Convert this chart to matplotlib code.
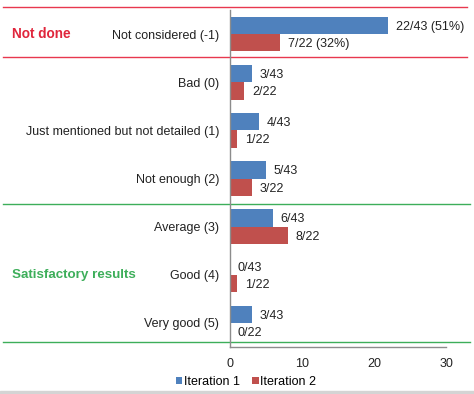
import matplotlib
matplotlib.use("Agg")
import matplotlib.pyplot as plt
import matplotlib.transforms as mtransforms
from matplotlib.patches import Rectangle
import numpy as np

plt.rcParams["font.family"] = ["Liberation Sans", "DejaVu Sans"]

# data
categories = [
    "Not considered (-1)",
    "Bad (0)",
    "Just mentioned but not detailed (1)",
    "Not enough (2)",
    "Average (3)",
    "Good (4)",
    "Very good (5)",
]
iteration1 = [22, 3, 4, 5, 6, 0, 3]
iteration2 = [7, 2, 1, 3, 8, 1, 0]
total1 = 43
total2 = 22
series_names = ["Iteration 1", "Iteration 2"]
xticks = [0, 10, 20, 30]

BLUE = "#4F81BD"
RED = "#C0504D"
LINE_RED = "#E8384F"
LINE_GREEN = "#3DAE5A"

W, H = 474, 394
fig = plt.figure(figsize=(W / 100, H / 100), dpi=100)
ax = fig.add_axes([230 / W, 1 - 347 / H, (446 - 230) / W, (347 - 10) / H])

y = np.arange(len(categories))
h = 0.36
b1 = ax.barh(y - h / 2, iteration1, height=h, color=BLUE)
b2 = ax.barh(y + h / 2, iteration2, height=h, color=RED)

# value labels next to each bar
for i, (v1, v2) in enumerate(zip(iteration1, iteration2)):
    lab1 = f"{v1}/{total1}"
    lab2 = f"{v2}/{total2}"
    if i == 0:
        lab1 += f" ({round(100 * v1 / total1)}%)"
        lab2 += f" ({round(100 * v2 / total2)}%)"
    ax.annotate(lab1, (v1, i - h / 2), xytext=(5.5, -1), textcoords="offset points",
                va="center", ha="left", fontsize=9, color="#222222")
    ax.annotate(lab2, (v2, i + h / 2), xytext=(5.5, -1), textcoords="offset points",
                va="center", ha="left", fontsize=9, color="#222222")

ax.set_xlim(0, 30)
ax.set_ylim(len(categories) - 0.5, -0.5)
ax.set_xticks(xticks)
ax.set_yticks(y)
ax.set_yticklabels(categories)
ax.tick_params(axis="both", length=0, labelsize=9, colors="#222222")
ax.tick_params(axis="x", pad=8)
ax.tick_params(axis="y", pad=8)
for s in ["top", "right"]:
    ax.spines[s].set_visible(False)
for s in ["left", "bottom"]:
    ax.spines[s].set_color("#8C8C8C")
    ax.spines[s].set_linewidth(1)

# group separators spanning the whole figure width
trans = mtransforms.blended_transform_factory(fig.transFigure, ax.transData)
ax.plot([3 / W, 467 / W], [-0.56, -0.56], color=LINE_RED, lw=1, transform=trans, clip_on=False)
ax.plot([3 / W, 467 / W], [0.48, 0.48], color=LINE_RED, lw=1, transform=trans, clip_on=False)
ax.plot([3 / W, 470 / W], [3.54, 3.54], color=LINE_GREEN, lw=1, transform=trans, clip_on=False)
ax.plot([3 / W, 470 / W], [6.40, 6.40], color=LINE_GREEN, lw=1, transform=trans, clip_on=False)

ax.text(12 / W, 0, "Not done", transform=trans, fontsize=9.8, fontweight="bold",
        color="#E0263C", va="center", ha="left")
ax.text(12 / W, 5, "Satisfactory results", transform=trans, fontsize=9.6,
        fontweight="bold", color="#3DAE5A", va="center", ha="left")

fig.legend([b1, b2], series_names, loc="center", bbox_to_anchor=(246 / W, 1 - 382 / H),
           ncol=2, frameon=False, fontsize=9, handlelength=0.5, handleheight=0.5,
           handletextpad=0.15, columnspacing=1.0)

fig.patches.append(Rectangle((0, 0), 1, 3 / H, transform=fig.transFigure,
                             color="#D4D4D4", zorder=0))

fig.savefig("out.png", dpi=100)
